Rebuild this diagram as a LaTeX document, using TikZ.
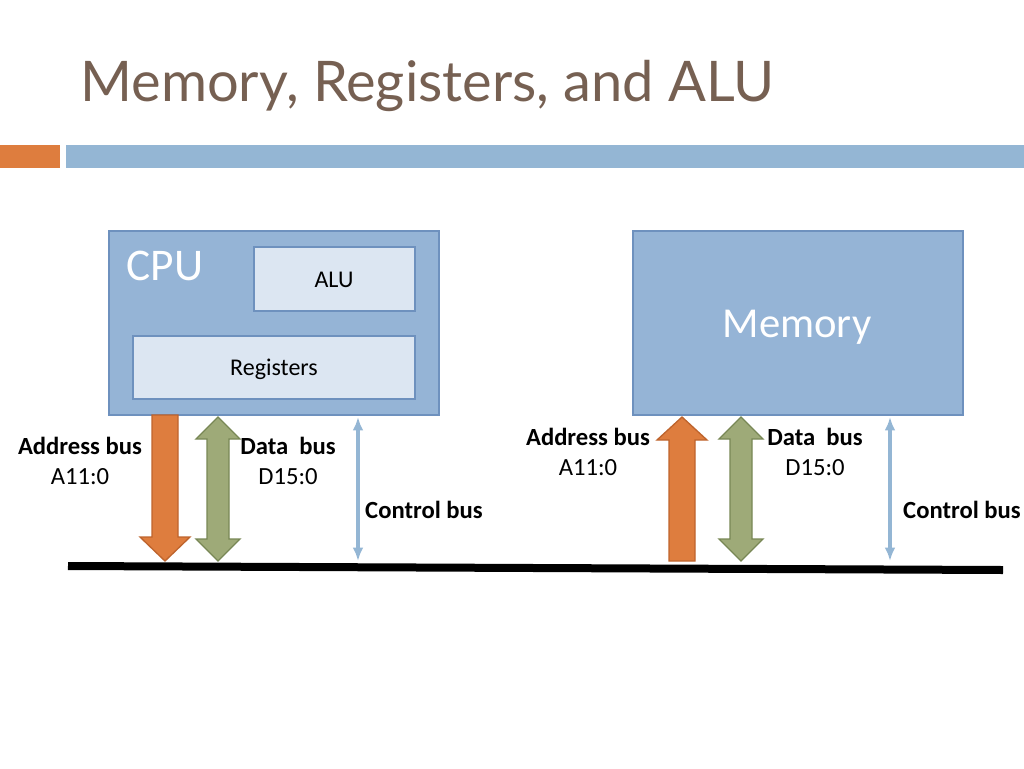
\documentclass[tikz,border=0pt]{standalone}
\usepackage{fontspec}
\setmainfont{Carlito}
\newfontfamily\titlefont{Lato}
\usetikzlibrary{positioning,arrows.meta,calc}
\definecolor{titlebrown}{RGB}{118,96,82}
\definecolor{barorange}{RGB}{222,125,62}
\definecolor{barblue}{RGB}{148,182,212}
\definecolor{boxblue}{RGB}{149,180,214}
\definecolor{boxedge}{RGB}{110,145,190}
\definecolor{lightbox}{RGB}{220,230,242}
\definecolor{busgreen}{RGB}{158,170,120}
\definecolor{greenedge}{RGB}{120,135,85}
\definecolor{orangeedge}{RGB}{190,100,45}
\begin{document}
\begin{tikzpicture}[x=0.75pt,y=-0.75pt,
    unit/.style={draw=boxedge,line width=1.2pt,fill=boxblue},
    part/.style={draw=boxedge,line width=1pt,fill=lightbox},
    lbl/.style={font=\fontsize{18.5}{20}\selectfont\bfseries,inner sep=1pt},
    sub/.style={font=\fontsize{18.5}{20}\selectfont,inner sep=1pt},
    ctrl/.style={{Latex[length=10pt,width=8pt]}-{Latex[length=10pt,width=8pt]},draw=barblue,line width=3pt}
    ]
    \useasboundingbox (0,0) rectangle (1024,768);
    % title and bars
    \node[anchor=base west,text=titlebrown,font=\titlefont\fontsize{42}{46}\selectfont,inner sep=0pt] (title) at (80,101) {Memory, Registers, and ALU};
    \fill[barorange] (0,145) rectangle (60,168);
    \fill[barblue] (66,145) rectangle (1024,168);
    % boxes
    \draw[unit] (109,231) rectangle (439,415);
    \draw[part] (254,247) rectangle (415,311);
    \draw[part] (133,336) rectangle (415,399);
    \node[text=white,font=\fontsize{34}{36}\selectfont] (cpu) at (165,266) {CPU};
    \node[font=\fontsize{18}{20}\selectfont] (alu) at (334,280) {ALU};
    \node[font=\fontsize{18}{20}\selectfont] (reg) at (274,369) {Registers};
    \draw[unit] (633,231) rectangle (963,415);
    \node[text=white,font=\fontsize{32}{34}\selectfont] (mem) at (797,327) {Memory};
    % bus
    \coordinate (busl) at (68,566);
    \coordinate (busr) at (1003,570);
    \draw[line width=6pt] (busl) -- (busr);
    % fat arrows
    \filldraw[fill=barorange,draw=orangeedge,line width=1pt]
      (152,415) -- (178,415) -- (178,537) -- (190,537) -- (165,561) -- (140,537) -- (152,537) -- cycle;
    \filldraw[fill=busgreen,draw=greenedge,line width=1pt]
      (218,417) -- (240,439) -- (229,439) -- (229,539) -- (240,539) -- (218,561) -- (196,539) -- (207,539) -- (207,439) -- (196,439) -- cycle;
    \filldraw[fill=barorange,draw=orangeedge,line width=1pt]
      (669,561) -- (695,561) -- (695,440) -- (707,440) -- (682,417) -- (657,440) -- (669,440) -- cycle;
    \filldraw[fill=busgreen,draw=greenedge,line width=1pt]
      (741,417) -- (763,439) -- (752,439) -- (752,539) -- (763,539) -- (741,561) -- (719,539) -- (730,539) -- (730,439) -- (719,439) -- cycle;
    % control lines
    \coordinate (c1t) at (358,417);
    \coordinate (c1b) at (358,561);
    \coordinate (c2t) at (890,417);
    \coordinate (c2b) at (890,561);
    \draw[ctrl] (c1t) -- (c1b);
    \draw[ctrl] (c2t) -- (c2b);
    % labels
    \node[lbl] (addr1) at (80,446) {Address bus};
    \node[sub] (a1) at (80,477) {A11:0};
    \node[lbl] (data1) at (288,446) {Data\ \ bus};
    \node[sub] (d1) at (288,477) {D15:0};
    \node[lbl] (ctl1) at (424,510) {Control bus};
    \node[lbl] (addr2) at (588,437) {Address bus};
    \node[sub] (a2) at (588,468) {A11:0};
    \node[lbl] (data2) at (815,437) {Data\ \ bus};
    \node[sub] (d2) at (815,468) {D15:0};
    \node[lbl] (ctl2) at (962,510) {Control bus};
\end{tikzpicture}
\end{document}
